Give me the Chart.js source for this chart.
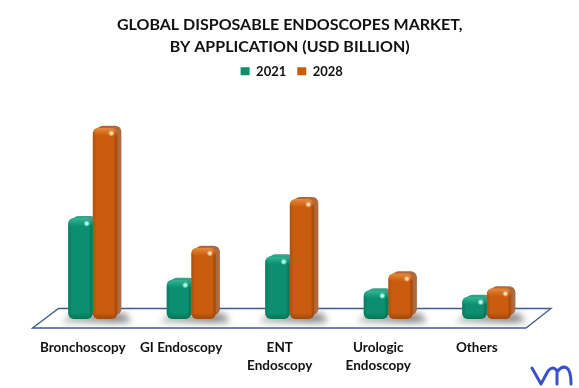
<!DOCTYPE html>
<html><head><meta charset="utf-8">
<style>html,body{margin:0;padding:0;background:#fff}#w{width:579px;height:388px}</style>
<script src="https://cdn.jsdelivr.net/npm/chart.js@4"></script></head>
<body><div id="w"><canvas id="c"></canvas></div>
<script>
const categories=["Bronchoscopy","GI Endoscopy",["ENT","Endoscopy"],["Urologic","Endoscopy"],"Others"];
const seriesNames=["2021","2028"];
const values2021=[0.95,0.37,0.59,0.27,0.21];
const values2028=[1.80,0.67,1.13,0.43,0.29];
const titleLines=["GLOBAL DISPOSABLE ENDOSCOPES MARKET,","BY APPLICATION (USD BILLION)"];
const FONT="Lato";
const GREEN="#0b8f6e",ORANGE="#c95c0f";

function rr(ctx,x,y,w,h,r){ctx.beginPath();ctx.roundRect(x,y,w,h,r);}
const decor={
 id:'decor',
 afterLayout(chart){const L=chart.legend;L.top-=3.5;L.left+=2;L.right+=2;},
 beforeDatasetsDraw(chart){
  const {ctx,chartArea:a}=chart;
  const b=a.bottom;
  ctx.save();
  ctx.beginPath();
  ctx.moveTo(a.left-11,b+9);ctx.lineTo(a.left+15,b-10.5);ctx.lineTo(a.right+15,b-10.5);ctx.lineTo(a.right-10,b+9);ctx.closePath();
  ctx.fillStyle='#fff';ctx.fill();
  ctx.strokeStyle='#3c5a8e';ctx.lineWidth=1.3;ctx.stroke();
  ctx.restore();
  const m0=chart.getDatasetMeta(0).data,m1=chart.getDatasetMeta(1).data;
  m0.forEach((e,i)=>{
   const f=m1[i],l=e.x-e.width/2,r=f.x+f.width/2;
   ctx.save();ctx.filter='blur(3px)';
   const g=ctx.createLinearGradient(l,0,r+14,0);
   g.addColorStop(0,'#c4c4c4');g.addColorStop(0.75,'#8a8a8a');g.addColorStop(1,'#b0b0b0');
   ctx.fillStyle=g;
   ctx.beginPath();
   ctx.moveTo(l-7,b+4);ctx.lineTo(l+3,b-6);ctx.lineTo(r+9,b-6);ctx.lineTo(r+14,b+4);ctx.closePath();ctx.fill();
   ctx.restore();
  });
  [[m0,'#3f9f86'],[m1,'#ab6a3f']].forEach(([m,col])=>m.forEach(e=>{
   const l=e.x-e.width/2;
   ctx.save();ctx.fillStyle=col;
   rr(ctx,l+4,e.y-2,e.width,e.base-e.y-2,6);ctx.fill();
   ctx.restore();
  }));
 },
 afterDatasetsDraw(chart){
  const {ctx}=chart;
  [0,1].forEach(di=>{
   const light=di?'#e98a3a':'#30b897',dark=di?'#8f3f06':'#05684f';
   const glow=di?'#ffd9a8':'#b8fff0';
   chart.getDatasetMeta(di).data.forEach(e=>{
    const l=e.x-e.width/2,w=e.width,h=e.base-e.y,t=e.y;
    ctx.save();
    rr(ctx,l,t,w,h,6);ctx.clip();
    let g=ctx.createLinearGradient(l,0,l+w,0);
    g.addColorStop(0,dark+'44');g.addColorStop(0.14,'#00000000');g.addColorStop(0.86,'#00000000');g.addColorStop(1,dark+'77');
    ctx.fillStyle=g;ctx.fillRect(l,t,w,h);
    g=ctx.createLinearGradient(0,t,0,t+8);
    g.addColorStop(0,light);g.addColorStop(1,light+'00');
    ctx.fillStyle=g;ctx.fillRect(l,t,w,8);
    g=ctx.createLinearGradient(0,t+h-6,0,t+h);
    g.addColorStop(0,dark+'00');g.addColorStop(1,dark+'bb');
    ctx.fillStyle=g;ctx.fillRect(l,t+h-6,w,6);
    const hx=l+w-6,hy=t+5.5;
    g=ctx.createRadialGradient(hx,hy,0,hx,hy,3.2);
    g.addColorStop(0,'#ffffff');g.addColorStop(0.35,glow);g.addColorStop(1,glow+'00');
    ctx.fillStyle=g;ctx.fillRect(hx-4,hy-4,8,8);
    ctx.restore();
   });
  });
  ctx.save();ctx.strokeStyle='#3a50c8';ctx.lineWidth=3;ctx.lineCap='round';ctx.lineJoin='round';
  ctx.beginPath();ctx.moveTo(532,368);ctx.lineTo(541,384);ctx.lineTo(548,371);
  ctx.quadraticCurveTo(553,365,557,371);ctx.lineTo(557,384);
  ctx.moveTo(557,372);ctx.quadraticCurveTo(562,365,567,368);ctx.quadraticCurveTo(571,371,571,384);
  ctx.stroke();ctx.restore();
 }
};
new Chart(document.getElementById('c'),{
 type:'bar',
 data:{labels:categories,datasets:[
  {label:seriesNames[0],data:values2021,backgroundColor:GREEN,borderRadius:6,borderSkipped:false,categoryPercentage:0.5,barPercentage:1},
  {label:seriesNames[1],data:values2028,backgroundColor:ORANGE,borderRadius:6,borderSkipped:false,categoryPercentage:0.5,barPercentage:1}]},
 options:{
  responsive:true,maintainAspectRatio:false,animation:false,
  layout:{padding:{left:43.5,right:43,top:13.5,bottom:0}},
  plugins:{
   title:{display:true,text:titleLines,color:'#111',font:{family:FONT,size:16,weight:'bold',lineHeight:1.37},padding:{top:0,bottom:0}},
   legend:{position:'top',labels:{color:'#111',font:{family:FONT,size:13,weight:'bold'},boxWidth:9,boxHeight:8,padding:11}},
   tooltip:{enabled:false}
  },
  scales:{
   x:{grid:{display:false},border:{display:false},afterFit(s){s.height=69;},
      ticks:{color:'#111',font:{family:FONT,size:13.5,weight:'bold',lineHeight:1.3},padding:12,labelOffset:-10,maxRotation:0,autoSkip:false}},
   y:{display:false,min:0,max:2.143}
  }
 },
 plugins:[decor]
});
</script></body></html>
